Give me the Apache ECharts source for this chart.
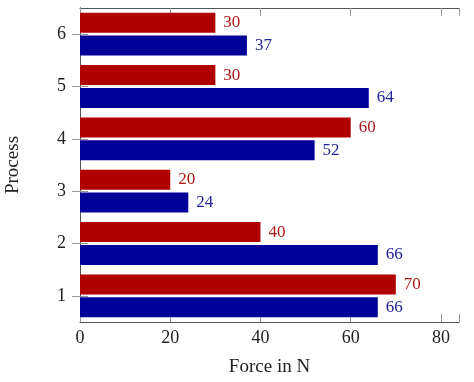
<!DOCTYPE html>
<html>
<head>
<meta charset="utf-8">
<script src="https://cdn.jsdelivr.net/npm/echarts@6/dist/echarts.min.js"></script>
<style>html,body{margin:0;padding:0;background:#fff}#c{width:474px;height:382px}</style>
</head>
<body>
<div id="c"></div>
<script>
const categories = ['1', '2', '3', '4', '5', '6'];
const blueValues = [66, 66, 24, 52, 64, 37];
const redValues = [70, 40, 20, 60, 30, 30];
const xTickValues = [0, 20, 40, 60, 80];

const FONT = 'Liberation Serif';
const RED = '#b00000';
const BLUE = '#000099';
const AXIS = '#555555';
const TICK = '#999999';

const chart = echarts.init(document.getElementById('c'));
const xBase = {
  type: 'value', min: 0, max: 84, interval: 20,
  splitLine: { show: false },
  axisLine: { show: true, lineStyle: { color: AXIS, width: 1 } },
  axisTick: { show: true, inside: true, length: 8, lineStyle: { color: TICK } }
};
const yBase = {
  type: 'category', data: categories,
  axisLine: { show: true, lineStyle: { color: AXIS, width: 1 } },
  axisTick: { show: true, inside: false, length: 8, alignWithLabel: true, lineStyle: { color: TICK } },
  splitLine: { show: false }
};
chart.setOption({
  animation: false,
  backgroundColor: '#fff',
  textStyle: { fontFamily: FONT },
  grid: { left: 80, right: 15, top: 8, bottom: 60, containLabel: false, outerBoundsMode: 'none' },
  xAxis: [
    Object.assign({}, xBase, {
      position: 'bottom',
      name: 'Force in N', nameLocation: 'middle', nameGap: 36,
      nameTextStyle: { fontFamily: FONT, fontSize: 19, color: '#222' },
      axisLabel: {
        fontFamily: FONT, fontSize: 18, color: '#222', margin: 7,
        formatter: v => xTickValues.indexOf(v) >= 0 ? String(v) : ''
      }
    }),
    Object.assign({}, xBase, { position: 'top', axisLabel: { show: false } })
  ],
  yAxis: [
    Object.assign({}, yBase, {
      position: 'left',
      name: 'Process', nameLocation: 'middle', nameGap: 57, nameRotate: 90,
      nameTextStyle: { fontFamily: FONT, fontSize: 19, color: '#222' },
      axisLabel: { fontFamily: FONT, fontSize: 18, color: '#222', margin: 14 }
    }),
    Object.assign({}, yBase, { position: 'right', axisLabel: { show: false } })
  ],
  series: [
    {
      type: 'bar', data: redValues, xAxisIndex: 0, yAxisIndex: 0,
      barWidth: 20, barGap: '14%',
      itemStyle: { color: RED },
      label: { show: true, position: 'right', distance: 8, color: '#b01818', fontFamily: FONT, fontSize: 17 }
    },
    {
      type: 'bar', data: blueValues, xAxisIndex: 0, yAxisIndex: 0,
      barWidth: 20, barGap: '14%',
      itemStyle: { color: BLUE },
      label: { show: true, position: 'right', distance: 8, color: '#22229a', fontFamily: FONT, fontSize: 17 }
    }
  ]
});
</script>
</body>
</html>
